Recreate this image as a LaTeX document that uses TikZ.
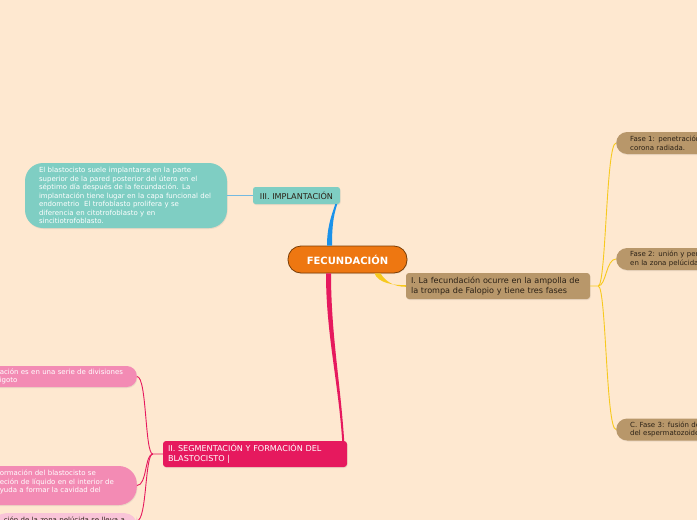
\documentclass[tikz,border=0pt]{standalone}
\usepackage{fontspec}
\setmainfont{DejaVu Sans}
\usetikzlibrary{positioning,shadows}
\definecolor{peach}{HTML}{FEE8D0}
\definecolor{fecorange}{HTML}{EE7711}
\definecolor{fecedge}{HTML}{7A3D05}
\definecolor{tealbox}{HTML}{7FCEC3}
\definecolor{tanbox}{HTML}{B8976A}
\definecolor{segred}{HTML}{E6195E}
\definecolor{pinkbox}{HTML}{F38BB4}
\definecolor{palepink}{HTML}{F9C4D8}
\definecolor{fasegold}{HTML}{F7C91E}
\definecolor{implblue}{HTML}{1B92EA}
\definecolor{softblue}{HTML}{74B9E0}
\definecolor{darktext}{HTML}{2B2116}

\begin{document}
\begin{tikzpicture}[x=1pt,y=-1pt,
  box/.style={inner ysep=2pt,align=left,drop shadow={opacity=0.15,shadow xshift=0.6pt,shadow yshift=-1pt}},
  small/.style={font=\fontsize{7}{8.5}\selectfont},
  mid/.style={font=\fontsize{8.1}{9.5}\selectfont},
  phase/.style={box,small,fill=tanbox,text=darktext,rounded corners=11pt,anchor=west,text width=110pt,inner xsep=14pt,minimum height=22pt},
  branch/.style={line width=0.9pt}]
  \fill[peach] (0,0) rectangle (697,520);
  \useasboundingbox (0,0) rectangle (697,520);
  \clip (0,0) rectangle (697,520);

  \node[box,font=\fontsize{10}{12}\selectfont\bfseries,fill=fecorange,draw=fecedge,line width=0.8pt,text=white,rounded corners=13pt,minimum width=119pt,minimum height=27pt] (fec) at (347.5,259.5) {FECUNDACIÓN};

  \node[box,mid,fill=tealbox,text=darktext,rounded corners=2.5pt,minimum width=87pt,minimum height=17pt,inner xsep=0pt] (imp) at (296.5,195.5) {III. IMPLANTACIÓN};
  \node[box,small,fill=tealbox,text=white,rounded corners=18pt,minimum width=202pt,minimum height=65pt,text width=174pt,inner xsep=14pt] (implbox) at (126,195.5) {El blastocisto suele implantarse en la parte\\superior de la pared posterior del útero en el\\séptimo día después de la fecundación. La\\implantación tiene lugar en la capa funcional del\\endometrio~ El trofoblasto prolifera y se\\diferencia en citotrofoblasto y en\\sincitiotrofoblasto.};

  \node[box,mid,fill=tanbox,text=darktext,rounded corners=3pt,text width=174pt,inner xsep=5pt,minimum height=26pt] (fases) at (498,286) {I. La fecundación ocurre en la ampolla de\\la trompa de Falopio y tiene tres fases};
  \node[phase] (f1) at (616,143) {Fase 1: penetración\\corona radiada.};
  \node[phase] (f2) at (616,259) {Fase 2: unión y penetración\\en la zona pelúcida};
  \node[phase] (f3) at (616,429.5) {C. Fase 3: fusión de\\del espermatozoide};

  \node[box,font=\fontsize{8.1}{10}\selectfont,fill=segred,text=white,rounded corners=3pt,text width=174pt,inner xsep=5pt,minimum height=26pt] (seg) at (255,454) {II. SEGMENTACIÓN Y FORMACIÓN DEL\\BLASTOCISTO |};
  \node[box,small,fill=pinkbox,text=white,rounded corners=10pt,anchor=east,text width=127pt,inner xsep=10pt,minimum height=21pt] (pk1) at (137,376.5) {ación es en una serie de divisiones\\igoto};
  \node[box,small,fill=pinkbox,text=white,rounded corners=18pt,anchor=east,text width=117pt,inner xsep=20pt,minimum height=39pt] (pk2) at (137,485.5) {ormación del blastocisto se\\eción de líquido en el interior de\\yuda a formar la cavidad del\\~};
  \node[box,small,fill=palepink,text=darktext,rounded corners=12pt,anchor=north east,text width=123pt,inner xsep=10pt,inner ysep=4pt] (pk3) at (137,513) {ción de la zona pelúcida se lleva a};

  \coordinate[right=8pt of fases] (fasefork);
  \coordinate[left=10pt of seg] (segfork);

  % tapered main branches
  \draw[softblue,line width=1.3pt] (imp.west) -- (implbox.east);
  \fill[implblue] ([xshift=-20.5pt]fec.north) .. controls +(0,-18) and +(-4,12) .. ([xshift=-5pt]imp.south east)
    -- ([xshift=-3pt]imp.south east) .. controls +(-4,12) and +(0,-18) .. ([xshift=-15.5pt]fec.north) -- cycle;
  \fill[segred] ([xshift=-21.5pt]fec.south) .. controls +(0,60) and +(-4,-60) .. ([xshift=-5pt]seg.north east)
    -- ([xshift=-3pt]seg.north east) .. controls +(-4,-60) and +(0,60) .. ([xshift=-16.5pt]fec.south) -- cycle;
  \fill[fasegold] ([xshift=27pt]fec.south) .. controls +(4,10) and +(-12,0) .. ([yshift=0.8pt]fases.west)
    -- ([yshift=-0.8pt]fases.west) .. controls +(-12,0) and +(5,8) .. ([xshift=33pt]fec.south) -- cycle;

  \draw[fasegold,branch] (fases.east) -- (fasefork) .. controls +(8,0) and +(-10,0) .. (f1.west);
  \draw[fasegold,branch] (fasefork) .. controls +(8,0) and +(-10,0) .. (f2.west);
  \draw[fasegold,branch] (fasefork) .. controls +(8,0) and +(-10,0) .. (f3.west);

  \draw[segred,branch] (seg.west) -- (segfork) .. controls +(-8,0) and +(10,0) .. (pk1.east);
  \draw[segred,branch] (segfork) .. controls +(-8,0) and +(10,0) .. (pk2.east);
  \draw[segred,branch] (segfork) .. controls +(-8,0) and +(10,0) .. (pk3.east);
\end{tikzpicture}
\end{document}
